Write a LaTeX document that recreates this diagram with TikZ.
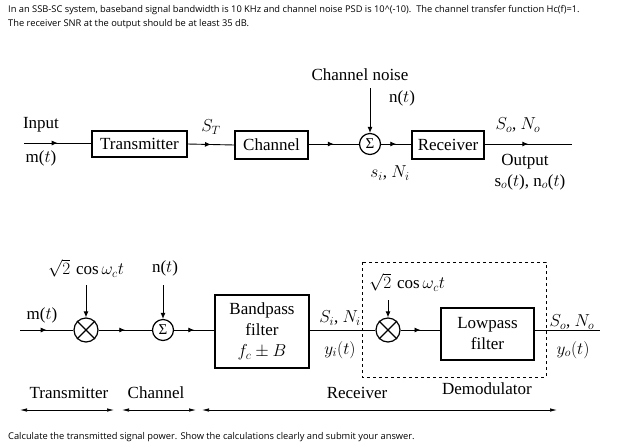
\documentclass[tikz,border=0pt]{standalone}
\usepackage{fontspec}
\setmainfont{Liberation Serif}
\newfontfamily\qsans{Open Sans}
\usetikzlibrary{decorations.markings,arrows.meta}
\begin{document}
\begin{tikzpicture}[x=1pt,y=-1pt,
  blk/.style={draw,line width=1.2pt,inner sep=0pt,font=\fontsize{17}{21}\selectfont},
  circ/.style={draw,circle,line width=1.2pt,inner sep=0pt},
  sig/.style={circ,minimum size=21pt,font=\fontsize{15}{15}\selectfont},
  lbl/.style={font=\fontsize{17}{18}\selectfont,inner sep=0pt},
  qtxt/.style={font=\qsans\fontsize{9.3}{11}\selectfont,anchor=west,inner sep=0pt},
  mid/.style={postaction={decorate},decoration={markings,mark=at position 0.5 with {\arrow{Latex[length=6pt,width=5pt]}}}},
  ln/.style={line width=0.9pt},
  tip/.style={-{Latex[length=6pt,width=5pt]},line width=0.9pt}]
\useasboundingbox (0,0) rectangle (631,445);
\node[qtxt] (q1) at (8,10) {In an SSB-SC system, baseband signal bandwidth is 10 KHz and channel noise PSD is 10\^{}(-10).\ \ The channel transfer function Hc(f)=1.};
\node[qtxt] (q2) at (8,24) {The receiver SNR at the output should be at least 35 dB.};
\node[qtxt] (q3) at (8,437) {Calculate the transmitted signal power. Show the calculations clearly and submit your answer.};
% top diagram
\coordinate (in) at (24,143);
\node[blk,minimum width=95pt,minimum height=26pt] (tx) at (139.5,144) {Transmitter};
\node[blk,minimum width=73pt,minimum height=28pt] (ch) at (271.5,145) {Channel};
\node[sig] (s1) at (370,144) {Σ};
\node[blk,minimum width=72pt,minimum height=28pt] (rx) at (448,145) {Receiver};
\coordinate (out) at (572,144);
\coordinate (nz) at (370,88);
\draw[ln,mid] (in) -- (tx.west|-in);
\draw[ln,mid] (tx.east) -- (ch.west);
\draw[ln,mid] (ch.east|-s1) -- (s1.west);
\draw[ln,mid] (s1.east) -- (rx.west|-s1);
\draw[ln,mid] (rx.east|-s1) -- (out);
\draw[tip] (nz) -- (s1.north);
\node[lbl] (l1) at (41,125) {Input};
\node[lbl] (l2) at (41,158) {m($t$)};
\node[lbl] (l3) at (211,127) {$S_T$};
\node[lbl] (l4) at (360,75) {Channel noise};
\node[lbl] (l5) at (402,98) {n($t$)};
\node[lbl] (l6) at (390,173) {$s_i$, $N_i$};
\node[lbl] (l7) at (518,125) {$S_o$, $N_o$};
\node[lbl] (l8) at (525,162) {Output};
\node[lbl] (l9) at (530,182) {s$_o$($t$), n$_o$($t$)};
% bottom diagram
\coordinate (in2) at (20,330);
\node[circ,minimum size=24pt] (m1) at (86,330) {};
\draw[line width=1.2pt] (m1.north east) -- (m1.south west) (m1.north west) -- (m1.south east);
\node[sig] (s2) at (163,330) {Σ};
\node[blk,minimum width=94pt,minimum height=73pt,align=center] (bp) at (262,331.5) {Bandpass\\filter\\$f_c\pm B$};
\node[circ,minimum size=24pt] (m2) at (388,330) {};
\draw[line width=1.2pt] (m2.north east) -- (m2.south west) (m2.north west) -- (m2.south east);
\node[blk,minimum width=93pt,minimum height=52pt,align=center] (lp) at (487.5,334) {Lowpass\\filter};
\coordinate (out2) at (600,330);
\draw[ln,mid] (in2) -- (m1.west);
\draw[ln,mid] (m1.east) -- (s2.west);
\draw[ln,mid] (s2.east) -- (bp.west|-s2);
\draw[ln] (bp.east|-s2) -- (m2.west);
\draw[ln,mid] (m2.east) -- (lp.west|-m2);
\draw[ln] (lp.east|-m2) -- (out2);
\coordinate (c1) at (86,285);
\coordinate (c2) at (163,285);
\coordinate (c3) at (388,300);
\draw[tip] (c1) -- (m1.north);
\draw[tip] (c2) -- (s2.north);
\draw[tip] (c3) -- (m2.north);
\draw[dashed,line width=0.9pt] (362,262) rectangle (546,377);
\node[lbl] (b1) at (86,268) {$\sqrt{2}\,\cos\omega_c t$};
\node[lbl] (b2) at (165,268) {n($t$)};
\node[lbl] (b3) at (407,282) {$\sqrt{2}\,\cos\omega_c t$};
\node[lbl] (b4) at (42,315) {m($t$)};
\node[lbl] (b5) at (340,318) {$S_i$, $N_i$};
\node[lbl] (b6) at (340,350) {$y_i(t)$};
\node[lbl] (b7) at (572,322) {$S_o$, $N_o$};
\node[lbl] (b8) at (573,350) {$y_o(t)$};
\node[lbl] (b9) at (69,393) {Transmitter};
\node[lbl] (b10) at (156,393) {Channel};
\node[lbl] (b11) at (357,393) {Receiver};
\node[lbl] (b12) at (487,389) {Demodulator};
\coordinate (a1) at (20,410); \coordinate (a2) at (114,410);
\coordinate (a3) at (122,410); \coordinate (a4) at (196,410);
\coordinate (a5) at (202,410); \coordinate (a6) at (557,410);
\draw[{Latex[length=7pt,width=3.5pt]}-{Latex[length=7pt,width=3.5pt]},line width=0.7pt] (a1) -- (a2);
\draw[{Latex[length=7pt,width=3.5pt]}-{Latex[length=7pt,width=3.5pt]},line width=0.7pt] (a3) -- (a4);
\draw[{Latex[length=7pt,width=3.5pt]}-{Latex[length=7pt,width=3.5pt]},line width=0.7pt] (a5) -- (a6);
\end{tikzpicture}
\end{document}
